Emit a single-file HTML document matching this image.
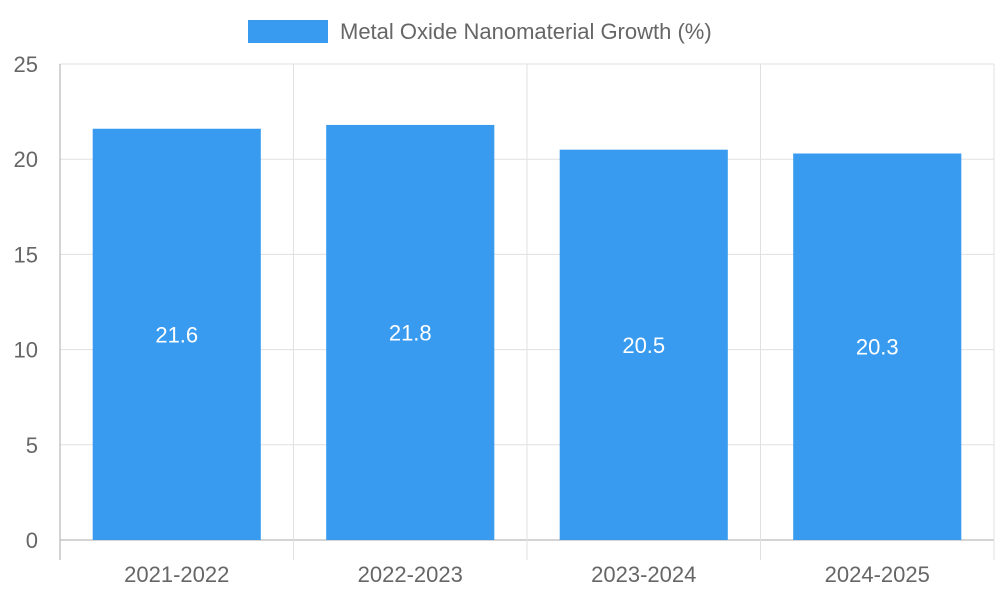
<!DOCTYPE html>
<html><head><meta charset="utf-8"><style>
body{margin:0;background:#fff;}
svg{display:block;font-family:"Liberation Sans",sans-serif;}
</style></head><body>
<svg id="chart" width="1000" height="600">
<g>
<rect x="248" y="20" width="80" height="23" fill="#389bf0"></rect>
<text x="340" y="39" font-size="22" fill="#666">Metal Oxide Nanomaterial Growth (%)</text>
</g>
<g id="grid"></g><g id="bars"></g><g id="labels"></g>
</svg>
<script>
const categories=["2021-2022","2022-2023","2023-2024","2024-2025"];
const values=[21.6,21.8,20.5,20.3];
const yTicks=[0,5,10,15,20,25];
const X0=60,X1=994,Y0=540,Y1=64,YMAX=25;
const ns="http://www.w3.org/2000/svg";
const y=v=>Y0-(v/YMAX)*(Y0-Y1);
const cw=(X1-X0)/categories.length;
const x=i=>X0+cw*i;
function mk(t,a,p){const e=document.createElementNS(ns,t);for(const k in a)e.setAttribute(k,a[k]);p.appendChild(e);return e;}
const g=document.getElementById('grid'),b=document.getElementById('bars'),l=document.getElementById('labels');
yTicks.forEach(t=>{
const ln=mk('line',{x1:X0,x2:X1,y1:y(t),y2:y(t),stroke:t===0?'#aaa':'#e0e0e0','stroke-width':1},g);


const tx=mk('text',{x:38,y:y(t)+8,'font-size':22,fill:'#666','text-anchor':'end'},g);
tx.textContent=t;


});
for(let i=0;i<=categories.length;i++){
const ln=mk('line',{x1:x(i),x2:x(i),y1:Y1,y2:560,stroke:i===0?'#aaa':'#e0e0e0','stroke-width':1},g);


}
categories.forEach((c,i)=>{
const bw=cw*0.72,cx=x(i)+cw/2;
const r=mk('rect',{x:cx-bw/2,y:y(values[i]),width:bw,height:Y0-y(values[i]),fill:'#389bf0'},b);


const v=mk('text',{x:cx,y:(y(values[i])+Y0)/2+8,'font-size':22,fill:'#fff','text-anchor':'middle'},l);
v.textContent=values[i];


const t=mk('text',{x:cx,y:582,'font-size':22,fill:'#666','text-anchor':'middle'},l);
t.textContent=c;


});
</script>
</body></html>
